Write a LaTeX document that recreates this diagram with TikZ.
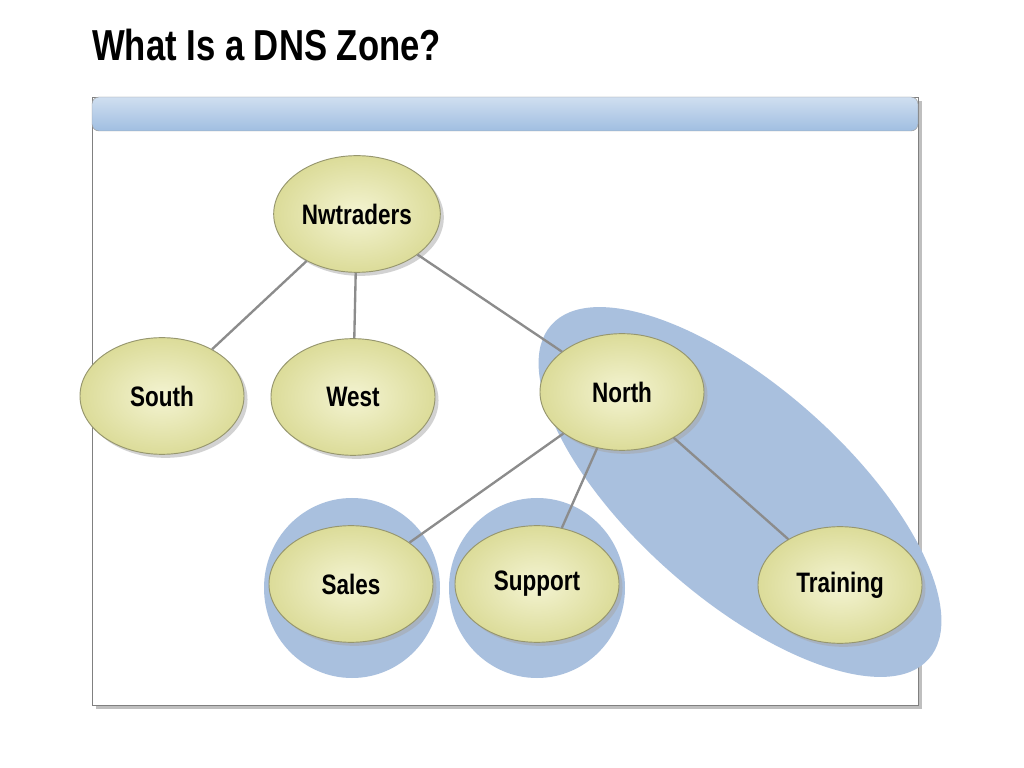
\documentclass[tikz,border=0pt]{standalone}
\usepackage{fontspec}
\setmainfont{Liberation Sans}[FakeStretch=0.8]
\usetikzlibrary{shapes.geometric,shadows}
\definecolor{zoneblue}{RGB}{169,192,222}
\definecolor{nodeface}{RGB}{236,236,180}
\definecolor{nodeedge}{RGB}{150,150,110}
\definecolor{barblue}{RGB}{160,190,225}
\begin{document}
\begin{tikzpicture}[x=0.03cm,y=-0.03cm,
  dnsnode/.style={ellipse,draw=nodeedge,thick,inner color=nodeface!60!white,outer color=nodeface!85!olive,
    minimum width=4.92cm,minimum height=3.5cm,font=\fontsize{24}{28}\selectfont\bfseries,
    drop shadow={shadow xshift=3pt,shadow yshift=-3pt,fill=black!35}},
  zone/.style={fill=zoneblue},
  link/.style={draw=black!45,line width=2pt}]
\useasboundingbox (0,0) rectangle (1024,768);
% title
\node[anchor=west,font=\fontsize{37}{42}\selectfont\bfseries] (title) at (88,45) {What Is a DNS Zone?};
% panel
\fill[black!25] (96,101) rectangle (922,709);
\draw[black!50,fill=white,thick] (92,97) rectangle (918,705);
\shade[top color=barblue!50!white,bottom color=barblue,rounded corners=6pt,draw=black!40]
  (92,97) rectangle (918,131);
% zones
\fill[zone,rotate around={-41.5:(740,492)}] (740,492) ellipse (252 and 106);
\fill[zone] (352,588) ellipse (88 and 90);
\fill[zone] (537,588) ellipse (88 and 90);
% domains
\node[dnsnode] (nwtraders) at (357,214) {Nwtraders};
\node[dnsnode] (south) at (162,396) {South};
\node[dnsnode] (west) at (353,397) {West};
\node[dnsnode] (north) at (622,392) {North};
\node[dnsnode] (sales) at (351,584) {Sales};
\node[dnsnode] (support) at (537,584) {Support};
\node[dnsnode] (training) at (840,585) {Training};
% links
\draw[link] (nwtraders) -- (south);
\draw[link] (nwtraders) -- (west);
\draw[link] (nwtraders) -- (north);
\draw[link] (north) -- (sales);
\draw[link] (north) -- (support);
\draw[link] (north) -- (training);
\end{tikzpicture}
\end{document}
